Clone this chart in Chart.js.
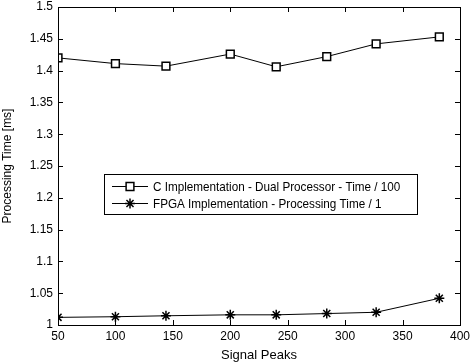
<!DOCTYPE html>
<html>
<head>
<meta charset="utf-8">
<script src="https://cdn.jsdelivr.net/npm/chart.js@4.4.1/dist/chart.umd.min.js"></script>
<style>
  html, body { margin: 0; padding: 0; background: #fff; }
  #wrap { width: 474px; height: 363px; }
</style>
</head>
<body>
<div id="wrap"><canvas id="c" width="474" height="363"></canvas></div>
<script>
const signalPeaks = [50, 100, 144, 200, 240, 284, 327, 382];
const cDualProc = [1.420, 1.411, 1.407, 1.426, 1.406, 1.422, 1.442, 1.453];
const fpgaTime = [1.012, 1.013, 1.0145, 1.016, 1.016, 1.018, 1.020, 1.042];
const seriesLabels = [
  "C Implementation - Dual Processor - Time / 100",
  "FPGA Implementation - Processing Time / 1",
];

const FONT = "Arial, 'Liberation Sans', sans-serif";
Chart.defaults.font.family = FONT;
Chart.defaults.color = "#000";

function toPoints(xs, ys) {
  return xs.map((x, i) => ({ x: x, y: ys[i] }));
}

// matlab style: ticks pointing inward on all four sides
const innerTicks = {
  id: "innerTicks",
  afterDraw(chart) {
    const { ctx, chartArea: a, scales } = chart;
    const len = 5;
    ctx.save();
    ctx.strokeStyle = "#000";
    ctx.lineWidth = 1;
    ctx.beginPath();
    scales.x.ticks.forEach((t) => {
      const px = Math.round(scales.x.getPixelForValue(t.value)) + 0.5;
      ctx.moveTo(px, a.bottom); ctx.lineTo(px, a.bottom - len);
      ctx.moveTo(px, a.top); ctx.lineTo(px, a.top + len);
    });
    scales.y.ticks.forEach((t) => {
      const py = Math.round(scales.y.getPixelForValue(t.value)) + 0.5;
      ctx.moveTo(a.left, py); ctx.lineTo(a.left + len, py);
      ctx.moveTo(a.right, py); ctx.lineTo(a.right - len, py);
    });
    ctx.stroke();
    ctx.strokeRect(Math.round(a.left) + 0.5, Math.round(a.top) + 0.5,
      Math.round(a.right - a.left), Math.round(a.bottom - a.top));
    ctx.restore();
  },
};

// legend box inside the plot
const boxLegend = {
  id: "boxLegend",
  afterDraw(chart) {
    const { ctx, chartArea: a } = chart;
    const x0 = a.left + 46, y0 = a.top + 167, w = 313, h = 40;
    ctx.save();
    ctx.fillStyle = "#fff";
    ctx.fillRect(x0, y0, w, h);
    ctx.strokeStyle = "#000";
    ctx.lineWidth = 1;
    ctx.strokeRect(x0 + 0.5, y0 + 0.5, w, h);
    ctx.font = "13px " + FONT;
    ctx.textBaseline = "middle";
    chart.data.datasets.forEach((ds, i) => {
      const yy = y0 + 12 + i * 17;
      ctx.beginPath();
      ctx.moveTo(x0 + 8, yy + 0.5);
      ctx.lineTo(x0 + 44, yy + 0.5);
      ctx.lineWidth = 1;
      ctx.strokeStyle = "#000";
      ctx.stroke();
      ctx.lineWidth = ds.pointBorderWidth;
      Chart.helpers.drawPoint(ctx, {
        pointStyle: ds.pointStyle,
        radius: ds.pointRadius,
        borderWidth: ds.pointBorderWidth,
      }, x0 + 26, yy + 0.5);
      // text in the reference is condensed, squeeze it a bit
      ctx.save();
      ctx.translate(x0 + 49, yy + 1);
      ctx.scale(0.9, 1);
      ctx.fillStyle = "#000";
      ctx.fillText(ds.label, 0, 0);
      ctx.restore();
    });
    ctx.restore();
  },
};

const ctx = document.getElementById("c").getContext("2d");
new Chart(ctx, {
  type: "line",
  data: {
    datasets: [
      {
        label: seriesLabels[0],
        data: toPoints(signalPeaks, cDualProc),
        borderColor: "#000",
        borderWidth: 1,
        pointStyle: "rect",
        pointRadius: 5.5,
        pointBorderWidth: 1.5,
        pointBackgroundColor: "#fff",
        pointBorderColor: "#000",
        tension: 0,
      },
      {
        label: seriesLabels[1],
        data: toPoints(signalPeaks, fpgaTime),
        borderColor: "#000",
        borderWidth: 1,
        pointStyle: "star",
        pointRadius: 5,
        pointBorderWidth: 1.5,
        pointBackgroundColor: "#000",
        pointBorderColor: "#000",
        tension: 0,
      },
    ],
  },
  options: {
    responsive: false,
    animation: false,
    layout: { padding: { left: 0, right: 10, top: 5, bottom: 0 } },
    scales: {
      x: {
        type: "linear",
        min: 50,
        max: 400,
        grid: { display: false, drawTicks: false },
        border: { display: false },
        ticks: { stepSize: 50, font: { size: 12 }, padding: 4, maxRotation: 0 },
        title: { display: true, text: "Signal Peaks", font: { size: 13 }, padding: { top: 5, bottom: 0 } },
        afterFit: (s) => { s.height = 38; },
      },
      y: {
        min: 1,
        max: 1.5,
        grid: { display: false, drawTicks: false },
        border: { display: false },
        ticks: {
          stepSize: 0.05,
          font: { size: 12 },
          padding: 5,
          callback: (v) => String(Number(v.toFixed(2))),
        },
        title: { display: true, text: "Processing Time [ms]", font: { size: 12 }, padding: { top: 0, bottom: 4 } },
        afterFit: (s) => { s.width = 58; s.paddingTop = 0; s.paddingBottom = 0; },
      },
    },
    plugins: {
      legend: { display: false },
      tooltip: { enabled: false },
    },
  },
  plugins: [innerTicks, boxLegend],
});
</script>
</body>
</html>
